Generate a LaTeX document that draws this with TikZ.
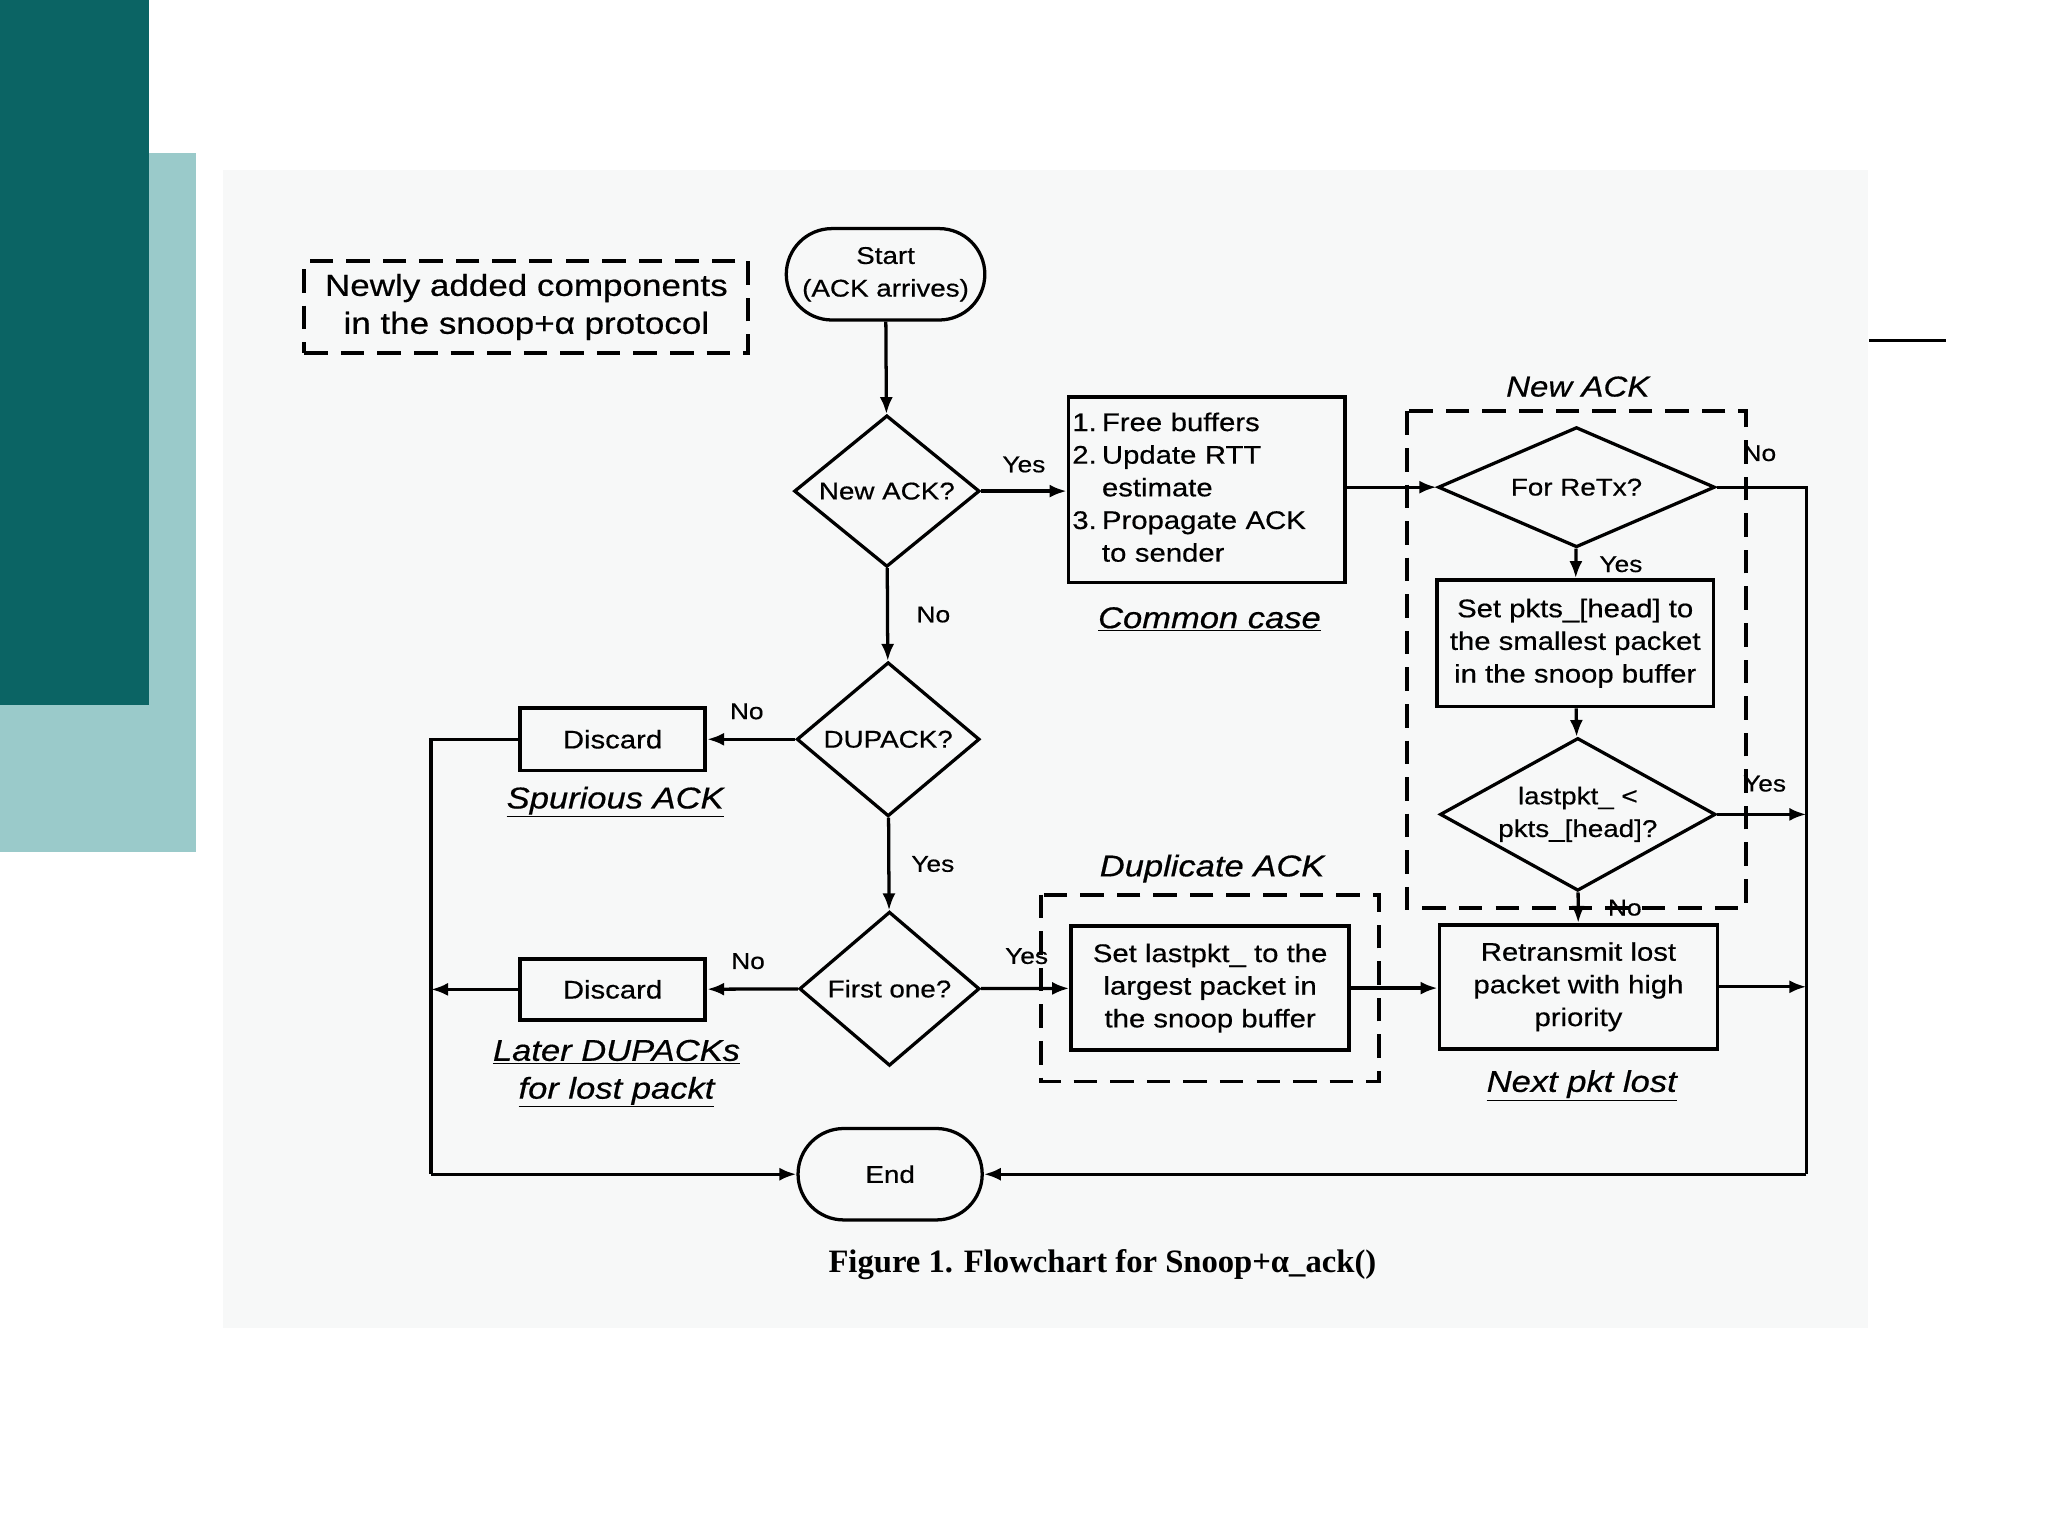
\documentclass[tikz,border=0pt]{standalone}
\usepackage{fontspec}
\usetikzlibrary{shapes.geometric,arrows.meta}
\newfontfamily\dfont[FakeStretch=1.15,FakeBold=0.5]{Liberation Sans}
\newfontfamily\serfont{Liberation Serif}
\newcommand{\bxfont}{\dfont\fontsize{19.5}{25}\selectfont}
\newcommand{\dmfont}{\dfont\fontsize{18.5}{25}\selectfont}
\newcommand{\yfont}{\dfont\fontsize{17.5}{21}\selectfont}
\newcommand{\itlfont}{\dfont\itshape\fontsize{23}{29}\selectfont}
\newcommand{\lgfont}{\dfont\fontsize{23.3}{29}\selectfont}
\newcommand{\cpfont}{\serfont\bfseries\fontsize{25}{30}\selectfont}
\definecolor{tealdark}{HTML}{0B6464}
\definecolor{teallight}{HTML}{9ACACA}
\definecolor{paper}{HTML}{F7F8F8}
\tikzset{
  procbox/.style={draw, line width=2.8pt, rectangle, inner sep=0pt, align=center, font=\bxfont},
  decis/.style={draw, line width=2.5pt, diamond, inner sep=0pt, align=center, font=\dmfont},
  term/.style={draw, line width=2.5pt, rectangle, rounded corners=35pt, inner sep=0pt, align=center, font=\dmfont},
  conn/.style={line width=2.5pt, -{Latex[length=13pt,width=10pt]}},
  plain/.style={line width=2.5pt},
  grp/.style={line width=3pt, dash pattern=on 18pt off 10pt},
  yn/.style={font=\yfont, inner sep=0pt},
  itl/.style={font=\itlfont, inner sep=0pt, align=center}
}
\begin{document}
\begin{tikzpicture}[x=1pt,y=-1pt]
% background
\fill[white] (0,0) rectangle (1568,1176);
\useasboundingbox (0,0) rectangle (1568,1176);
\fill[teallight] (0,117) rectangle (150,652);
\fill[tealdark] (0,0) rectangle (114,540);
\fill[paper] (171,130) rectangle (1430,1017);
\draw[line width=2.2pt] (1431,261) -- (1490,261);

% legend
\node[draw, grp, minimum width=340pt, minimum height=70pt, inner sep=0pt, align=center, font=\lgfont] (legend) at (403,235) {Newly added components\\in the snoop+α protocol};

% main nodes
\node[term, minimum width=152pt, minimum height=70pt] (start) at (678,210) {Start\\(ACK arrives)};
\node[decis, aspect=1.22, minimum width=142pt, minimum height=116pt] (newack) at (679,376) {New ACK?};
\node[procbox, minimum width=212pt, minimum height=142pt, text width=206pt, align=left] (common) at (924,375)
  {\begin{tabular}{@{}l@{\hspace{4pt}}l@{}}1. & Free buffers\\ 2. & Update RTT\\ & estimate\\ 3. & Propagate ACK\\ & to sender\end{tabular}};
\node[decis, aspect=1.19, minimum width=140pt, minimum height=118pt] (dupack) at (680,566) {DUPACK?};
\node[procbox, minimum width=142pt, minimum height=48pt] (disc1) at (469,566) {Discard};
\node[decis, aspect=1.17, minimum width=138pt, minimum height=118pt] (first) at (681,757) {First one?};
\node[procbox, minimum width=142pt, minimum height=47pt] (disc2) at (469,757.5) {Discard};
\node[procbox, minimum width=213pt, minimum height=95pt] (setlast) at (926.5,756.5) {Set lastpkt\_ to the\\largest packet in\\the snoop buffer};
\node[decis, aspect=2.3, minimum width=212pt, minimum height=92pt] (retx) at (1207,373) {For ReTx?};
\node[procbox, minimum width=212pt, minimum height=97pt] (setpkts) at (1206,492.5) {Set pkts\_[head] to\\the smallest packet\\in the snoop buffer};
\node[decis, aspect=1.8, minimum width=211pt, minimum height=117pt] (lastpkt) at (1208,623.5) {lastpkt\_ <\\pkts\_[head]?};
\node[procbox, minimum width=213pt, minimum height=95pt] (retrans) at (1208.5,755.5) {Retransmit lost\\packet with high\\priority};
\node[term, minimum width=141pt, minimum height=70pt] (end) at (681.5,899) {End};

% labels
\node[itl] (lcommon) at (926,474) {\underline{Common case}};
\node[itl] (lspur) at (471,614) {\underline{Spurious ACK}};
\node[itl] (llater) at (472,822) {\underline{Later DUPACKs}\\\underline{for lost packt}};
\node[itl] (lnext) at (1211,831) {\underline{Next pkt lost}};
\node[itl, font=\dfont\itshape\fontsize{22}{28}\selectfont] (lnewack) at (1208,296) {New ACK};
\node[itl] (ldup) at (928,665) {Duplicate ACK};
\node[font=\cpfont, inner sep=0pt] (caption) at (844,968) {Figure 1. Flowchart for Snoop+α\_ack()};

% junction coordinates
\coordinate (rtop) at (1383,373);
\coordinate (rbot) at (1383,899);
\coordinate (ltop) at (330,566);
\coordinate (lbot) at (330,899);

% connectors
\draw[conn] (start) -- (newack);
\draw[conn] (newack) -- node[yn, pos=0.5, above=13pt] (y1) {Yes} (newack.east -| common.west);
\draw[conn] (newack) -- node[yn, right=21pt] (n1) {No} (dupack);
\draw[conn] (dupack) -- node[yn, pos=0.55, above=14pt] (n2) {No} (disc1);
\draw[conn] (dupack) -- node[yn, right=16pt] (y2) {Yes} (first);
\draw[conn] (first) -- node[yn, pos=0.55, above=14pt] (n3) {No} (disc2);
\draw[conn] (first) -- (setlast);
\node[yn] (y3) at (786,732) {Yes};
\draw[conn] (setlast) -- (setlast.east -| retrans.west);
\draw[conn] (common.east |- retx.west) -- (retx.west);
\draw[conn] (retx) -- (setpkts);
\node[yn] (y4) at (1241,432) {Yes};
\draw[conn] (setpkts) -- (lastpkt);
\draw[conn] (lastpkt) -- (retrans);
\node[yn] (n4) at (1244,695) {No};
\draw[plain] (retx.east) -- (rtop) -- (rbot);
\draw[conn] (rbot) -- (end.east);
\node[yn] (n5) at (1347,347) {No};
\draw[conn] (lastpkt.east) -- (lastpkt.east -| rtop);
\node[yn] (y5) at (1351,600) {Yes};
\draw[conn] (retrans.east) -- (retrans.east -| rtop);
\draw[plain] (disc1.west) -- (ltop) -- (lbot);
\draw[conn] (lbot) -- (end.west);
\draw[conn] (disc2.west) -- (disc2.west -| ltop);

% dashed groups
\draw[grp] (1077,315) rectangle (1337,695);
\draw[grp] (797,685) rectangle (1056,828);
\end{tikzpicture}
\end{document}
